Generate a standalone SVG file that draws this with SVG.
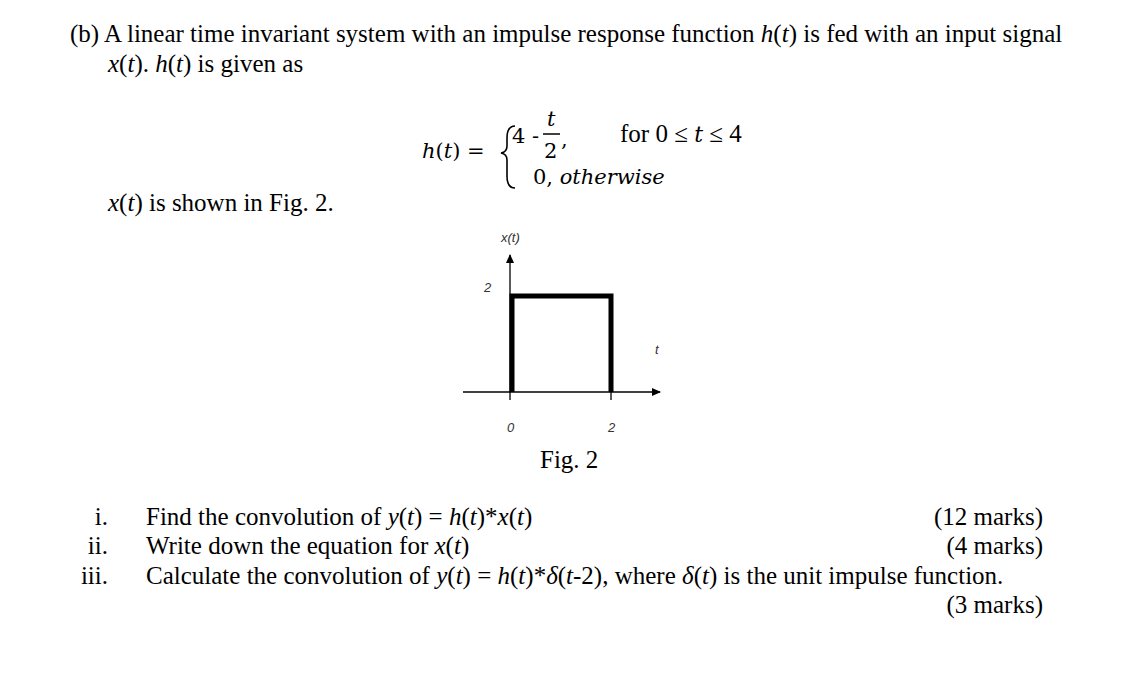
<svg xmlns="http://www.w3.org/2000/svg" width="1124" height="673" viewBox="0 0 1124 673">
<style>
.t{font-family:"Liberation Serif",serif;font-size:25px;fill:#000}
.m{font-family:"DejaVu Serif","Liberation Serif",serif;font-size:21px;fill:#000}
.s{font-family:"Liberation Sans",sans-serif;font-size:13px;fill:#333;font-style:italic}
</style>
<defs><marker id="ar" markerWidth="10" markerHeight="10" refX="8" refY="5" orient="auto" markerUnits="userSpaceOnUse"><path d="M0,1 L9,5 L0,9 Z" fill="#000"/></marker></defs>
<rect width="1124" height="673" fill="#fff"/>
<text class="t" x="70" y="42">(b) A linear time invariant system with an impulse response function <tspan font-style="italic">h</tspan>(<tspan font-style="italic">t</tspan>) is fed with an input signal</text>
<text class="t" x="108" y="72"><tspan font-style="italic">x</tspan>(<tspan font-style="italic">t</tspan>). <tspan font-style="italic">h</tspan>(<tspan font-style="italic">t</tspan>) is given as</text>
<g id="equation">
<text class="m" x="422" y="158"><tspan font-style="italic">h</tspan>(<tspan font-style="italic">t</tspan>) =</text>
<path d="M515,126 Q507,126 507,138 L507,146 Q507,152 501,153 Q507,154 507,160 L507,176 Q507,188 515,188" fill="none" stroke="#000" stroke-width="1.6"/>
<text class="m" x="512" y="143">4 -</text>
<text class="m" x="547" y="126" font-style="italic">t</text>
<line x1="543" y1="134" x2="560" y2="134" stroke="#000" stroke-width="1.5"/>
<text class="m" x="544" y="158">2</text>
<text class="m" x="561" y="146">,</text>
<text class="t" x="620" y="142">for 0 ≤ <tspan font-style="italic" font-family="DejaVu Serif" font-size="22">t</tspan> ≤ 4</text>
<text class="m" x="533" y="184">0,  <tspan font-style="italic">otherwise</tspan></text>
</g>
<text class="t" x="108" y="211"><tspan font-style="italic">x</tspan>(<tspan font-style="italic">t</tspan>) is shown in Fig. 2.</text>
<g id="figure">
<line x1="463" y1="392" x2="660" y2="392" stroke="#000" stroke-width="1.3" marker-end="url(#ar)"/>
<line x1="510" y1="400" x2="510" y2="255" stroke="#000" stroke-width="1.3" marker-end="url(#ar)"/>
<line x1="611" y1="392" x2="611" y2="400" stroke="#000" stroke-width="1.3"/>
<path d="M512,392 L512,296 L611,296 L611,392" fill="none" stroke="#000" stroke-width="5"/>
<text class="s" x="501" y="242">x(t)</text>
<text class="s" x="484" y="292">2</text>
<text class="s" x="655" y="354">t</text>
<text class="s" x="507" y="432">0</text>
<text class="s" x="608" y="432">2</text>
<text class="t" x="540" y="468">Fig. 2</text>
</g>
<g id="questions">
<text class="t" x="108" y="525" text-anchor="end">i.</text>
<text class="t" x="146" y="525">Find the convolution of <tspan font-style="italic">y</tspan>(<tspan font-style="italic">t</tspan>) = <tspan font-style="italic">h</tspan>(<tspan font-style="italic">t</tspan>)*<tspan font-style="italic">x</tspan>(<tspan font-style="italic">t</tspan>)</text>
<text class="t" x="1043" y="525" text-anchor="end">(12 marks)</text>
<text class="t" x="108" y="554" text-anchor="end">ii.</text>
<text class="t" x="146" y="554">Write down the equation for <tspan font-style="italic">x</tspan>(<tspan font-style="italic">t</tspan>)</text>
<text class="t" x="1043" y="554" text-anchor="end">(4 marks)</text>
<text class="t" x="108" y="584" text-anchor="end">iii.</text>
<text class="t" x="146" y="584">Calculate the convolution of <tspan font-style="italic">y</tspan>(<tspan font-style="italic">t</tspan>) = <tspan font-style="italic">h</tspan>(<tspan font-style="italic">t</tspan>)*<tspan font-style="italic">δ</tspan>(<tspan font-style="italic">t</tspan>-2), where <tspan font-style="italic">δ</tspan>(<tspan font-style="italic">t</tspan>) is the unit impulse function.</text>
<text class="t" x="1043" y="613" text-anchor="end">(3 marks)</text>
</g>
</svg>
